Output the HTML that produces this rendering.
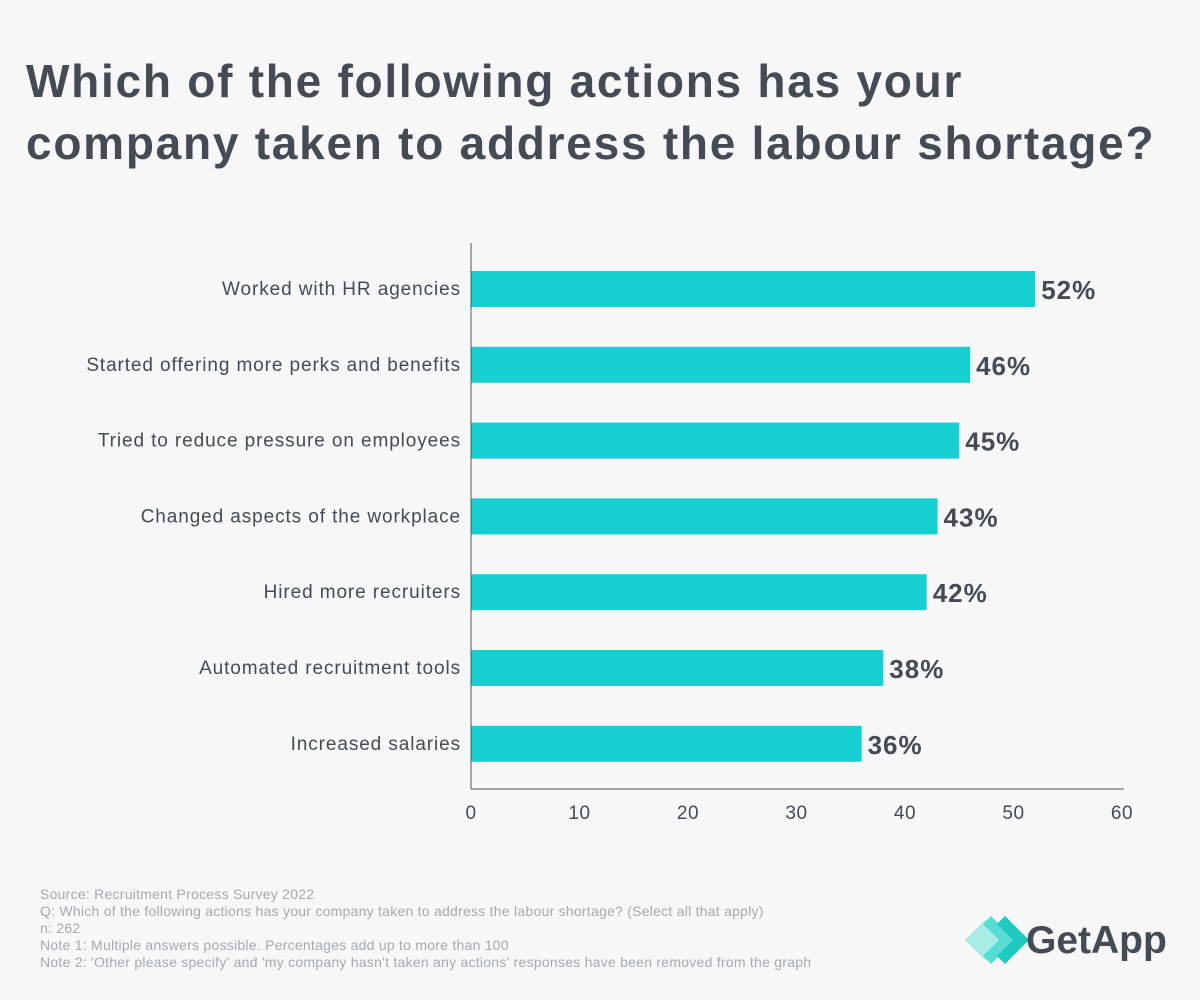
<!DOCTYPE html>
<html><head><meta charset="utf-8"><style>
body{margin:0;background:#f7f7f7;font-family:"Liberation Sans",sans-serif;}
#wrap{position:relative;width:1200px;height:1000px;background:#f7f7f7;overflow:hidden}
h1{position:absolute;left:26px;top:50px;margin:0;font-size:46px;line-height:62px;color:#454b54;font-weight:bold;letter-spacing:1.75px;white-space:nowrap}
.foot{position:absolute;left:40px;top:886px;font-size:14px;letter-spacing:0.25px;line-height:17px;color:#a6a9ad;white-space:nowrap}
</style></head><body>
<div id="wrap">
<h1>Which of the following actions has your<br>company taken to address the labour shortage?</h1>
<svg id="chart" width="1200" height="1000" style="position:absolute;left:0;top:0"></svg>
<div class="foot">Source: Recruitment Process Survey 2022<br>Q: Which of the following actions has your company taken to address the labour shortage? (Select all that apply)<br>n: 262<br>Note 1: Multiple answers possible. Percentages add up to more than 100<br>Note 2: 'Other please specify' and 'my company hasn't taken any actions' responses have been removed from the graph</div>
<svg width="220" height="60" style="position:absolute;left:960px;top:910px">
<g transform="translate(5,6)">
<polygon points="0,24 20,4 40,24 20,44" fill="#a8ece6"/>
<polygon points="18,8 26,0 50,24 26,48 18,40 34,24" fill="#56ddd3"/>
<polygon points="32,8 40,0 64,24 40,48 32,40 48,24" fill="#1ec9bf"/>
</g>
<text x="66" y="43" font-size="39" font-weight="bold" fill="#454b54" font-family="Liberation Sans, sans-serif">GetApp</text>
</svg>
</div>
<script>
const categories=["Worked with HR agencies","Started offering more perks and benefits","Tried to reduce pressure on employees","Changed aspects of the workplace","Hired more recruiters","Automated recruitment tools","Increased salaries"];
const values=[52,46,45,43,42,38,36];
const ticks=[0,10,20,30,40,50,60];
const svg=document.getElementById('chart');
const NS='http://www.w3.org/2000/svg';
const x0=471,x1=1122,xmax=60,yTop=243,yBot=789,rowStart=271,rowStep=75.8,barH=36;
const xs=v=>x0+(x1-x0)*v/xmax;
const yc=i=>rowStart+rowStep*i+barH/2;
function mk(t,a){const e=document.createElementNS(NS,t);for(const k in a)e.setAttribute(k,a[k]);svg.appendChild(e);return e;}
categories.forEach((c,i)=>{
 const r=mk('rect',{x:xs(0),y:yc(i)-barH/2,width:xs(values[i])-xs(0),height:barH,fill:'#17cfd0'});
 
 
 const l=mk('text',{x:461,y:yc(i)+6,'text-anchor':'end','font-size':19,'letter-spacing':0.9,fill:'#454b54'});
 l.textContent=c;
 
 
 const v=mk('text',{x:xs(values[i])+6,y:yc(i)+10,'font-size':26,'letter-spacing':1,'font-weight':'bold',fill:'#454b54'});
 v.textContent=values[i]+'%';
 
 
});
const ya=mk('line',{x1:x0,y1:yTop,x2:x0,y2:yBot,stroke:'#555',"stroke-width":1});


const xa=mk('line',{x1:x0,y1:yBot,x2:1124,y2:yBot,stroke:'#555',"stroke-width":1});


ticks.forEach(t=>{
 const e=mk('text',{x:xs(t),y:819,'text-anchor':'middle','font-size':19,'letter-spacing':0.5,fill:'#454b54'});
 e.textContent=t;
 
 
});
</script>
</body></html>
